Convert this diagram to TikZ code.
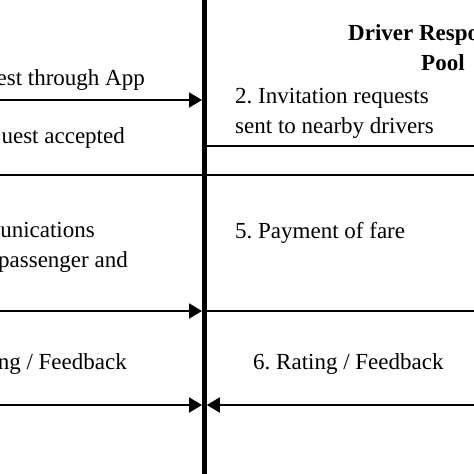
\documentclass[tikz,border=0pt]{standalone}
\usepackage{fontspec}
\setmainfont{Liberation Serif}
\usetikzlibrary{arrows.meta}
\frenchspacing

\begin{document}
\begin{tikzpicture} [
                x=1pt, y=-1pt,
                lifeline/.style = {draw,line width=4.5pt},
                msg/.style = {draw,line width=1.9pt,-{Triangle[length=13pt,width=15pt]}},
                rule/.style = {draw,line width=1.9pt,-},
                label/.style = {inner sep=0pt,font=\fontsize{23}{28}\selectfont},
                title/.style = {label,font=\fontsize{23}{28}\selectfont\bfseries},
            ]
            \useasboundingbox (0,0) rectangle (474,474);
            \clip (0,0) rectangle (474,474);
            % lifeline ends and message ends
            \coordinate (top) at (204.5,0);
            \coordinate (bot) at (204.5,474);
            \foreach \y/\name in {100/a, 146/b, 175/c, 311/d, 405/e} {
                \coordinate (\name L) at (0,\y);
                \coordinate (\name l) at (202,\y);
                \coordinate (\name r) at (206.8,\y);
                \coordinate (\name R) at (474,\y);
            }
            % messages and separators
            \foreach \source/ \dest in {
                    aL/al, dL/dl, eL/el, eR/er}
                \path[msg] (\source) -- (\dest);
            \foreach \source/ \dest in {
                    br/bR, cL/cR, dr/dR}
                \path[rule] (\source) -- (\dest);
            \path[lifeline] (top) -- (bot);
            % labels, passenger side
            \foreach \pos/\name/\text in {
                    {(145,85)/req/est through App}, {(125,143)/acc/uest accepted},
                    {(95,237)/com/unications}, {(128,267)/pas/passenger and},
                    {(127,369)/ratl/{ng / Feedback}}}
                \node[label,anchor=base east] (\name) at \pos {\text};
            % labels, driver side
            \node[title,anchor=base west] (pool1) at (348,40) {Driver Respo};
            \node[title,anchor=base west] (pool2) at (421,70) {Pool};
            \foreach \pos/\name/\text in {
                    {(235,103)/inv/2. Invitation requests}, {(235,133)/sent/sent to nearby drivers},
                    {(235,238)/pay/5. Payment of fare}, {(253,369)/ratr/{6. Rating / Feedback}}}
                \node[label,anchor=base west] (\name) at \pos {\text};
        \end{tikzpicture}
\end{document}
